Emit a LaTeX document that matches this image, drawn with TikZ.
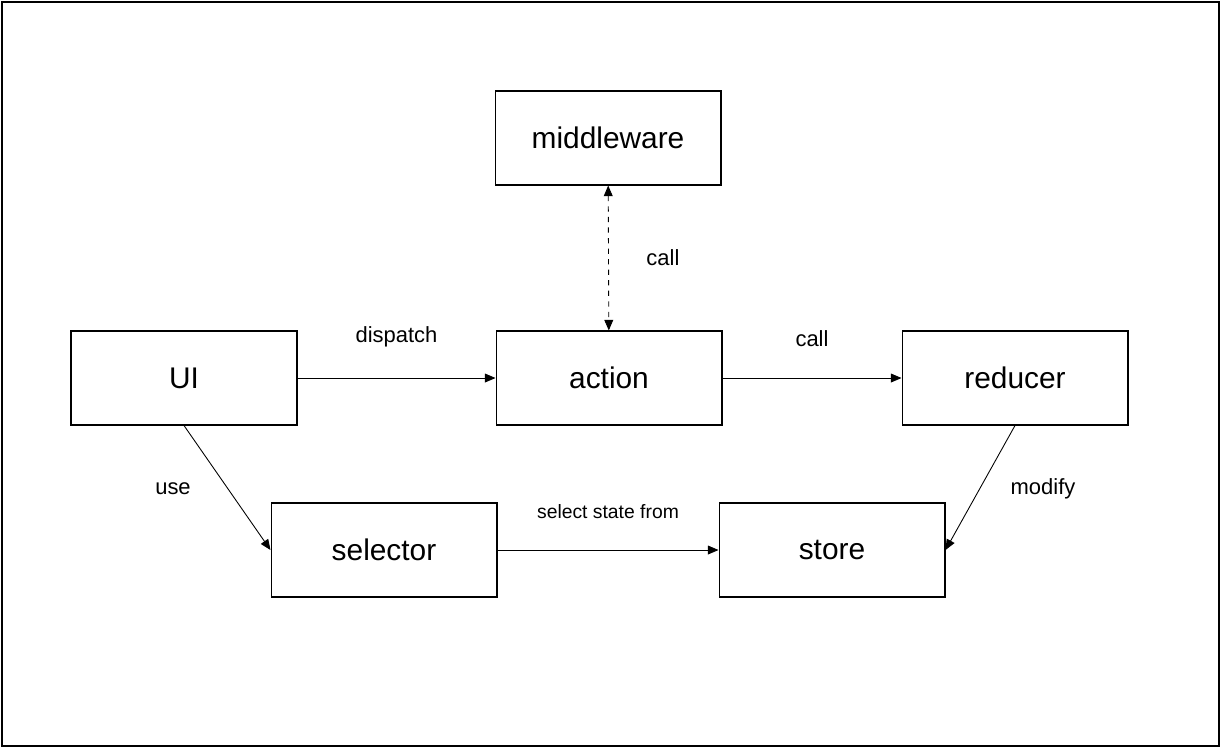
\documentclass[tikz,border=0pt]{standalone}
\usepackage{fontspec}
\setmainfont{Liberation Sans}
\usetikzlibrary{arrows.meta}
\usetikzlibrary{positioning}
\begin{document}
\begin{tikzpicture}[x=0.02cm,y=-0.02cm]
	\tikzset{
	  part/.style={draw,line width=0.6pt,minimum width=4.52cm,minimum height=1.88cm,font=\fontsize{17}{20}\selectfont},
	  flow/.style={line width=0.5pt,-{Triangle[length=6pt,width=5pt]}},
	  tag/.style={font=\fontsize{12.5}{15}\selectfont}
	}
	\useasboundingbox (0,0) rectangle (1222,748);
	%FRAME
	\draw[line width=0.8pt] (2,2) rectangle (1219,746);
	%PARTS
	\node[part] (mw) at (608,138) {middleware};
	\node[part] (ui) at (184,378) {UI};
	\node[part] (act) at (609,378) {action};
	\node[part] (red) at (1015,378) {reducer};
	\node[part] (sel) at (384,550) {selector};
	\node[part] (sto) at (832,550) {store};
	%FLOWS
	\draw[flow] (ui) -- (act) node[tag,midway,above=14pt] {dispatch};
	\draw[flow] (act) -- (red) node[tag,midway,above=14pt] {call};
	\draw[flow,dashed,{Triangle[length=6pt,width=5pt]}-{Triangle[length=6pt,width=5pt]}] (mw) -- (act) node[tag,pos=0.5,right=18pt] {call};
	\draw[flow] (ui.south) -- (sel.west) node[tag] at (173,489) {use};
	\draw[flow] (red.south) -- (sto.east) node[tag] at (1043,489) {modify};
	\draw[flow] (sel) -- (sto) node[midway,above=14pt,font=\fontsize{11}{13}\selectfont] {select state from};
\end{tikzpicture}
\end{document}
